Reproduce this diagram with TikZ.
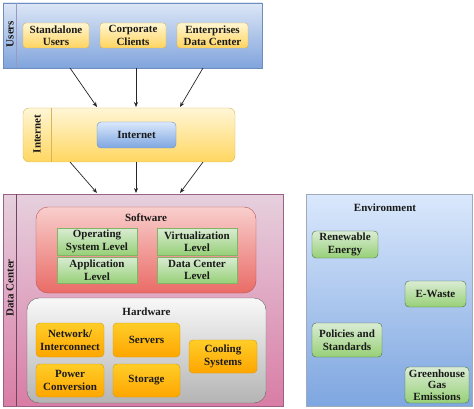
\documentclass[tikz,border=0pt]{standalone}
\usepackage{fontspec}
\setmainfont{Liberation Serif}
\usetikzlibrary{arrows.meta,calc}
\definecolor{txt}{HTML}{1A1A1A}
\begin{document}
\begin{tikzpicture}[x=1pt,y=-1pt,
  every node/.style={font=\fontsize{11}{12.5}\selectfont\bfseries,text=txt,align=center,inner sep=0pt},
  poolblue/.style={draw={rgb,255:red,108;green,142;blue,191},top color={rgb,255:red,220;green,230;blue,246},bottom color={rgb,255:red,128;green,164;blue,220}},
  poolyellow/.style={draw={rgb,255:red,214;green,182;blue,86},top color={rgb,255:red,255;green,246;blue,214},bottom color={rgb,255:red,255;green,214;blue,96}},
  poolpink/.style={draw={rgb,255:red,153;green,97;blue,133},top color={rgb,255:red,230;green,208;blue,222},bottom color={rgb,255:red,217;green,125;blue,165}},
  userbox/.style={draw={rgb,255:red,214;green,182;blue,86},rounded corners=3pt,top color={rgb,255:red,255;green,246;blue,210},bottom color={rgb,255:red,255;green,212;blue,95}},
  netbox/.style={draw={rgb,255:red,108;green,142;blue,191},rounded corners=4pt,top color={rgb,255:red,218;green,232;blue,252},bottom color={rgb,255:red,126;green,166;blue,224}},
  softbox/.style={draw={rgb,255:red,184;green,84;blue,80},rounded corners=12pt,top color={rgb,255:red,248;green,206;blue,204},bottom color={rgb,255:red,234;green,107;blue,102}},
  hardbox/.style={draw={rgb,255:red,102;green,102;blue,102},rounded corners=12pt,top color={rgb,255:red,248;green,248;blue,248},bottom color={rgb,255:red,180;green,180;blue,180}},
  greenbox/.style={draw={rgb,255:red,130;green,179;blue,102},top color={rgb,255:red,218;green,236;blue,212},bottom color={rgb,255:red,151;green,208;blue,119}},
  envbox/.style={greenbox,rounded corners=4pt,draw={rgb,255:red,70;green,110;blue,60}},
  orangebox/.style={draw={rgb,255:red,215;green,155;blue,0},rounded corners=4pt,top color={rgb,255:red,255;green,205;blue,40},bottom color={rgb,255:red,255;green,165;blue,0}},
  envpool/.style={draw={rgb,255:red,160;green,170;blue,185},top color={rgb,255:red,218;green,232;blue,252},bottom color={rgb,255:red,126;green,166;blue,224}},
  sz/.style 2 args={minimum width=#1pt,minimum height=#2pt},
  conn/.style={draw=black!85,line width=0.7pt,-{Stealth[length=5pt,width=4pt]}},
  lane/.style={draw=black!60!blue!40,line width=0.8pt}
]
\useasboundingbox (0,0) rectangle (474,409);

% pools
\node[poolblue,sz={259}{65}] (users) at (132.5,35.5) {};
\node[poolyellow,rounded corners=6pt,sz={212}{54}] (internet) at (129,135) {};
\node[poolpink,sz={280}{212}] (dc) at (143,300) {};
\node[envpool,sz={166}{212}] (env) at (389,300) {};

% lane dividers
\draw[lane] (16,3) -- (16,68);
\draw[lane,draw={rgb,255:red,214;green,182;blue,86}] (51,108) -- (51,162);
\draw[lane,draw={rgb,255:red,110;green,70;blue,100}] (16,194) -- (16,406);

% lane labels
\node[rotate=90] (lu) at (10,34) {Users};
\node[rotate=90] (li) at (37,134) {Internet};
\node[rotate=90] (ld) at (10,288) {Data Center};

% users
\node[userbox,sz={66}{25}] (sa) at (56,35.5) {Standalone\\Users};
\node[userbox,sz={66}{25}] (cc) at (133,35.5) {Corporate\\Clients};
\node[userbox,sz={71}{25}] (edc) at (212.5,35.5) {Enterprises\\Data Center};

% internet
\node[netbox,sz={79}{26}] (inet) at (136.5,135) {Internet};

% software
\node[softbox,sz={220}{86}] (sw) at (146,250) {};
\node (swl) at (146,218) {Software};
\node[greenbox,sz={80}{27}] (os) at (97,241.5) {Operating\\System Level};
\node[greenbox,sz={80}{26}] (app) at (97,270) {Application\\Level};
\node[greenbox,sz={80}{27}] (virt) at (197,241.5) {Virtualization\\Level};
\node[greenbox,sz={80}{26}] (dcl) at (197,270) {Data Center\\Level};

% hardware
\node[hardbox,sz={239}{105}] (hw) at (146.5,350.5) {};
\node (hwl) at (146.5,312) {Hardware};
\node[orangebox,sz={68}{34}] (net) at (70,340) {Network/\\Interconnect};
\node[orangebox,sz={67}{34}] (srv) at (146.5,340) {Servers};
\node[orangebox,sz={68}{33}] (pow) at (70,380.5) {Power\\Conversion};
\node[orangebox,sz={67}{33}] (sto) at (146.5,380.5) {Storage};
\node[orangebox,sz={68}{33}] (cool) at (223,356.5) {Cooling\\Systems};

% environment
\node (envl) at (385,208) {Environment};
\node[envbox,sz={66}{27}] (ren) at (345,244.5) {Renewable\\Energy};
\node[envbox,sz={61}{26}] (ew) at (435.5,294) {E-Waste};
\node[envbox,sz={70}{34}] (pol) at (347,340) {Policies and\\Standards};
\node[envbox,sz={64}{36},font=\fontsize{11}{11.5}\selectfont\bfseries] (gh) at (437,385) {Greenhouse\\Gas\\Emissions};

% connector end points
\coordinate (u1) at (70,68);  \coordinate (u2) at (136,68);  \coordinate (u3) at (203,68);
\coordinate (i1) at (97,107); \coordinate (i2) at (136,107); \coordinate (i3) at (180,107);
\coordinate (j1) at (70,162); \coordinate (j2) at (136,162); \coordinate (j3) at (203,162);
\coordinate (d1) at (97,193); \coordinate (d2) at (136,193); \coordinate (d3) at (180,193);

\draw[conn] (u1) -- (i1);
\draw[conn] (u2) -- (i2);
\draw[conn] (u3) -- (i3);
\draw[conn] (j1) -- (d1);
\draw[conn] (j2) -- (d2);
\draw[conn] (j3) -- (d3);
\end{tikzpicture}
\end{document}
